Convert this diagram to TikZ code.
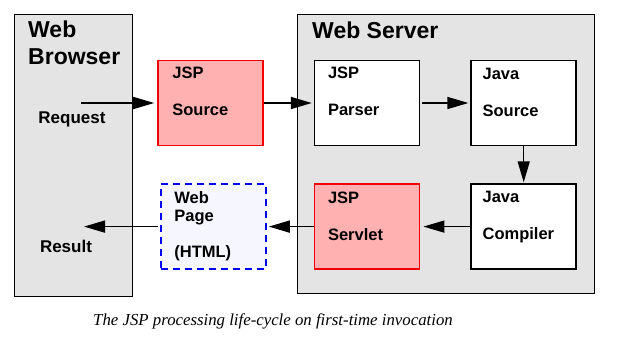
\documentclass[tikz,border=0pt]{standalone}
\usepackage{fontspec}
\setmainfont{Liberation Serif}
\setsansfont{Liberation Sans}
\usetikzlibrary{arrows.meta,positioning}

\definecolor{panelgray}{HTML}{E4E4E4}
\definecolor{jsppink}{HTML}{FFB0B0}
\definecolor{jspred}{HTML}{F00000}
\definecolor{pageblue}{HTML}{0000F0}
\definecolor{pagefill}{HTML}{F6F6FF}

\begin{document}
\begin{tikzpicture}[x=1pt,y=-1pt,node distance=37pt and 50pt,>={Triangle[length=21pt,width=12pt]},
  every node/.style={font=\sffamily\bfseries},
  panel/.style={draw,line width=1.6pt,fill=panelgray,inner sep=0pt},
  stage/.style={draw,line width=1.6pt,fill=white,minimum width=105pt,minimum height=85pt,inner sep=0pt},
  jsp/.style={stage,draw=jspred,fill=jsppink},
  page/.style={stage,draw=pageblue,fill=pagefill,dash pattern=on 7pt off 5pt},
  lbl/.style={font=\fontsize{16.5}{18.5}\selectfont\sffamily\bfseries,align=left,anchor=north west,inner sep=0pt},
  title/.style={font=\fontsize{23}{27}\selectfont\sffamily\bfseries,align=left,anchor=north west,inner sep=0pt},
  link/.style={line width=1.5pt}]
\path[use as bounding box,fill=white] (0,0) rectangle (619,343);

\node[panel,minimum width=118pt,minimum height=282pt] (browser) at (73.5,155.5) {};
\node[panel,minimum width=297pt,minimum height=279pt] (server) at (446,154) {};
\node[title] (browsertitle) at (28,21) {Web\\Browser};
\node[title] (servertitle) at (312,22) {Web Server};

\node[jsp] (jspsrc) at (210.5,103) {};
\node[stage,right=of jspsrc] (parser) {};
\node[stage,right=of parser] (javasrc) {};
\node[stage,below=of javasrc] (compiler) {};
\node[jsp,left=of compiler] (servlet) {};
\node[page,left=47pt of servlet] (webpage) {};

\node[lbl] (jspsrctext) at ([shift={(15,7)}]jspsrc.north west) {JSP\\[18.5pt]Source};
\node[lbl] (parsertext) at ([shift={(14,7)}]parser.north west) {JSP\\[18.5pt]Parser};
\node[lbl] (javasrctext) at ([shift={(12,8)}]javasrc.north west) {Java\\[18.5pt]Source};
\node[lbl] (compilertext) at ([shift={(12,8)}]compiler.north west) {Java\\[18.5pt]Compiler};
\node[lbl] (servlettext) at ([shift={(14,8)}]servlet.north west) {JSP\\[18.5pt]Servlet};
\node[lbl] (webpagetext) at ([shift={(14,8)}]webpage.north west) {Web\\Page\\[17.5pt](HTML)};

\node[font=\fontsize{17}{19}\selectfont\sffamily\bfseries] (request) at (72,119) {Request};
\node[font=\fontsize{17}{19}\selectfont\sffamily\bfseries] (result) at (66,246) {Result};
\node[font=\fontsize{16.8}{19}\selectfont\rmfamily\itshape] (caption) at (273,321) {The JSP processing life-cycle on first-time invocation};

\coordinate (req) at (81,0 |- jspsrc);
\coordinate (res) at (84,0 |- webpage);
\draw[->,link,shorten >=3pt] (req) -- (jspsrc);
\draw[->,link,shorten >=2pt] (jspsrc) -- (parser);
\draw[->,link,shorten <=2pt,shorten >=2pt] (parser) -- (javasrc);
\draw[->,link,shorten >=1pt] (javasrc) -- (compiler);
\draw[->,link,shorten >=3pt] (compiler) -- (servlet);
\draw[->,link,shorten >=2pt] (servlet) -- (webpage);
\draw[->,link,shorten <=2pt] (webpage) -- (res);
\end{tikzpicture}
\end{document}
